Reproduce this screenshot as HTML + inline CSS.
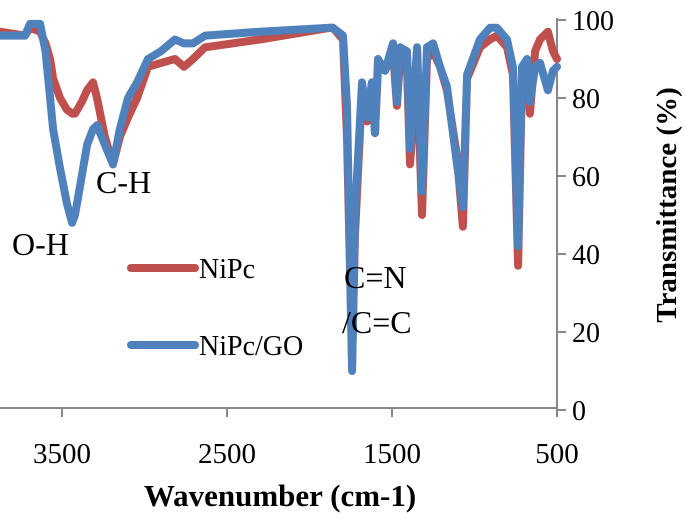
<!DOCTYPE html>
<html><head><meta charset="utf-8"><style>
html,body{margin:0;padding:0;background:#fff;}
svg{display:block;font-family:"Liberation Serif",serif;}
</style></head><body>
<svg id="chart" width="685" height="519" viewBox="0 0 685 519">
<defs><clipPath id="pc"><rect x="0" y="0" width="562" height="415"/></clipPath></defs>
<g id="axes"></g>
<g id="series" clip-path="url(#pc)"></g>
<g id="labels"></g>
</svg>
<script>
const wavenumbers=[3876,3724,3694,3633,3600,3572,3554,3512,3470,3439,3421,3380,3348,3312,3288,3240,3191,3150,3100,3045,2979,2900,2815,2760,2706,2633,2300,1876,1858,1797,1773,1742,1724,1682,1651,1621,1603,1585,1542,1494,1470,1451,1409,1391,1348,1318,1288,1251,1209,1167,1106,1070,1045,967,906,864,803,767,736,712,682,664,633,603,555,524,500];
const tNiPc=[97,96,98,97,94,90,85,80,77,76,76,79,82,84,80,70,63,70,75,80,88,89,90,88,90,93,95,98,98,95,70,12,45,82,74,84,71,88,87,92,78,90,88,63,88,50,90,92,88,82,65,47,85,93,95,96,93,86,37,85,87,76,92,95,97,92,90];
const tNiPcGO=[96,96,99,99,92,80,72,62,53,48,50,60,68,72,73,68,63,72,80,84,90,92,95,94,94,96,97,98,98,96,78,10,50,84,75,84,71,90,87,94,79,93,92,67,93,56,93,94,88,83,63,52,86,95,98,98,95,88,42,88,90,79,88,89,82,87,88];
const xTicks=[3500,2500,1500,500];
const yTicks=[0,20,40,60,80,100];
const X=w=>557-(w-500)*0.165;
const Y=t=>410-t*3.9;
const NS="http://www.w3.org/2000/svg";
function mk(tag,attrs,parent,text){const e=document.createElementNS(NS,tag);for(const k in attrs)e.setAttribute(k,attrs[k]);if(text!==undefined)e.textContent=text;parent.appendChild(e);return e;}
const axes=document.getElementById('axes'),series=document.getElementById('series'),labels=document.getElementById('labels');
const xa=mk('line',{x1:0,y1:408,x2:557,y2:408,stroke:'#888','stroke-width':2},axes);


const ya=mk('line',{x1:557,y1:18,x2:557,y2:409,stroke:'#888','stroke-width':2},axes);


xTicks.forEach(v=>{const x=X(v);
const t=mk('line',{x1:x,y1:408,x2:x,y2:417,stroke:'#888','stroke-width':2},axes);


const l=mk('text',{x:x,y:463,'text-anchor':'middle','font-size':29},labels,String(v));

});
yTicks.forEach(v=>{const y=Y(v);
const t=mk('line',{x1:557,y1:y,x2:566,y2:y,stroke:'#888','stroke-width':2},axes);


const l=mk('text',{x:572,y:y+10,'text-anchor':'start','font-size':28},labels,String(v));

});
function drawSeries(vals,color,name){const pts=wavenumbers.map((w,i)=>X(w).toFixed(1)+','+Y(vals[i]).toFixed(1)).join(' ');
const p=mk('polyline',{points:pts,fill:'none',stroke:color,'stroke-width':8,'stroke-linejoin':'round','stroke-linecap':'round'},series);

}
drawSeries(tNiPc,'#C0504D','series-nipc');
drawSeries(tNiPcGO,'#4F81BD','series-nipc-go');
function txt(x,y,s,size,name,extra){const e=mk('text',Object.assign({x:x,y:y,'font-size':size},extra||{}),labels,s);

return e;}
txt(12,255,'O-H',32,'annotation-oh');
txt(96,193,'C-H',32,'annotation-ch');
txt(344,288,'C=N',32,'annotation-cn');
txt(342,333,'/C=C',32,'annotation-cc');
const l1=mk('line',{x1:131,y1:268,x2:195,y2:268,stroke:'#C0504D','stroke-width':8,'stroke-linecap':'round'},labels);


txt(199,278,'NiPc',28,'legend-label-nipc');
const l2=mk('line',{x1:131,y1:345,x2:195,y2:345,stroke:'#4F81BD','stroke-width':8,'stroke-linecap':'round'},labels);


txt(199,355,'NiPc/GO',28,'legend-label-nipc-go');
txt(280,506,'Wavenumber (cm-1)',31,'x-axis-title',{'text-anchor':'middle','font-weight':'bold'});
txt(0,0,'Transmittance (%)',29,'y-axis-title',{'text-anchor':'middle','font-weight':'bold',transform:'translate(676,205) rotate(-90)'});
</script>
</body></html>
